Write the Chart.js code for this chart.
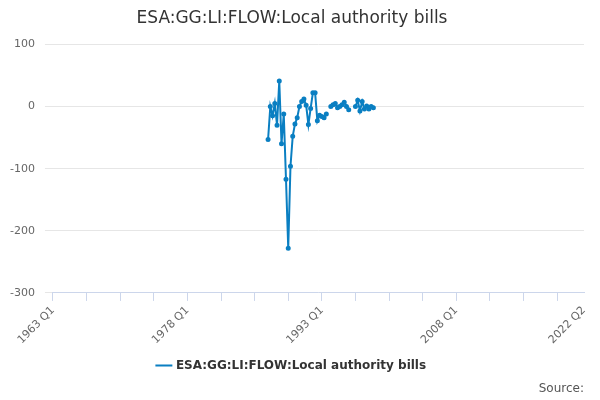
<!DOCTYPE html>
<html>
<head>
<meta charset="utf-8">
<script src="https://cdn.jsdelivr.net/npm/chart.js@4"></script>
<style>
  body { margin: 0; background: #fff; }
  #wrap { width: 600px; height: 400px; }
</style>
</head>
<body>
<div id="wrap"><canvas id="chart"></canvas></div>
<script>
// quarterly categories 1963 Q1 .. 2022 Q2
const quarters = [];
for (let y = 1963; y <= 2022; y++) {
    for (let q = 1; q <= 4; q++) {
        if (y === 2022 && q > 2) break;
        quarters.push(y + ' Q' + q);
    }
}

const startQuarter = '1987 Q1';
const bills = [
    -53, 0, -15, 5,          // 1987
    -30, 41, -60, -12,       // 1988
    -117, -228, -96, -48,    // 1989
    -28, -18, 0, 8,          // 1990
    12, 2, -29, -3,          // 1991
    22, 22, -23, -14,        // 1992
    -16, -18, -12, null,     // 1993
    0, 3, 5, -2,             // 1994
    0, 3, 7, 0,              // 1995
    -5, null, null, 0,       // 1996
    10, -7, 8, -4,           // 1997
    1, -4, 0, -2             // 1998
];

const labelIdx = [0, 60, 120, 180, quarters.length - 1];

const values = quarters.map(() => null);
const off = quarters.indexOf(startQuarter);
bills.forEach((v, i) => { values[off + i] = v; });

document.addEventListener('DOMContentLoaded', function () {
    new Chart(document.getElementById('chart'), {
        type: 'line',
        data: {
            labels: quarters,
            datasets: [{
                label: 'ESA:GG:LI:FLOW:Local authority bills',
                data: values,
                borderColor: '#0a7fc2',
                backgroundColor: '#0a7fc2',
                borderWidth: 2,
                pointRadius: 1.5,
                pointHoverRadius: 4,
                tension: 0,
                spanGaps: false
            }]
        },
        options: {
            responsive: true,
            maintainAspectRatio: false,
            animation: false,
            layout: { padding: { left: 0, right: 16, top: 0, bottom: 4 } },
            plugins: {
                title: {
                    display: true,
                    text: 'ESA:GG:LI:FLOW:Local authority bills',
                    color: '#333',
                    font: { family: 'DejaVu Sans', size: 17, weight: 'normal' },
                    padding: { top: 8, bottom: 16 }
                },
                legend: {
                    position: 'bottom',
                    labels: {
                        color: '#333',
                        font: { family: 'DejaVu Sans', size: 12, weight: 'bold' },
                        usePointStyle: true,
                        pointStyle: 'line',
                        boxWidth: 18
                    }
                },
                subtitle: {
                    display: true,
                    position: 'bottom',
                    align: 'end',
                    text: 'Source:',
                    color: '#555',
                    font: { family: 'DejaVu Sans', size: 12 },
                    padding: { top: 0, bottom: 0 }
                }
            },
            scales: {
                x: {
                    grid: {
                        drawOnChartArea: false,
                        tickLength: 8,
                        tickColor: ctx => (ctx.index % 15 === 0 ? '#ccd6eb' : 'rgba(0,0,0,0)')
                    },
                    border: { color: '#ccd6eb' },
                    ticks: {
                        autoSkip: false,
                        maxRotation: 45,
                        minRotation: 45,
                        color: '#666',
                        font: { family: 'DejaVu Sans', size: 11 },
                        callback: function (v, i) {
                            return labelIdx.includes(i) ? quarters[i] : '';
                        }
                    }
                },
                y: {
                    min: -300,
                    max: 100,
                    grid: { color: '#e6e6e6' },
                    border: { display: false },
                    ticks: {
                        stepSize: 100,
                        color: '#666',
                        font: { family: 'DejaVu Sans', size: 11 },
                        padding: 10
                    }
                }
            }
        }
    });
});
</script>
</body>
</html>
